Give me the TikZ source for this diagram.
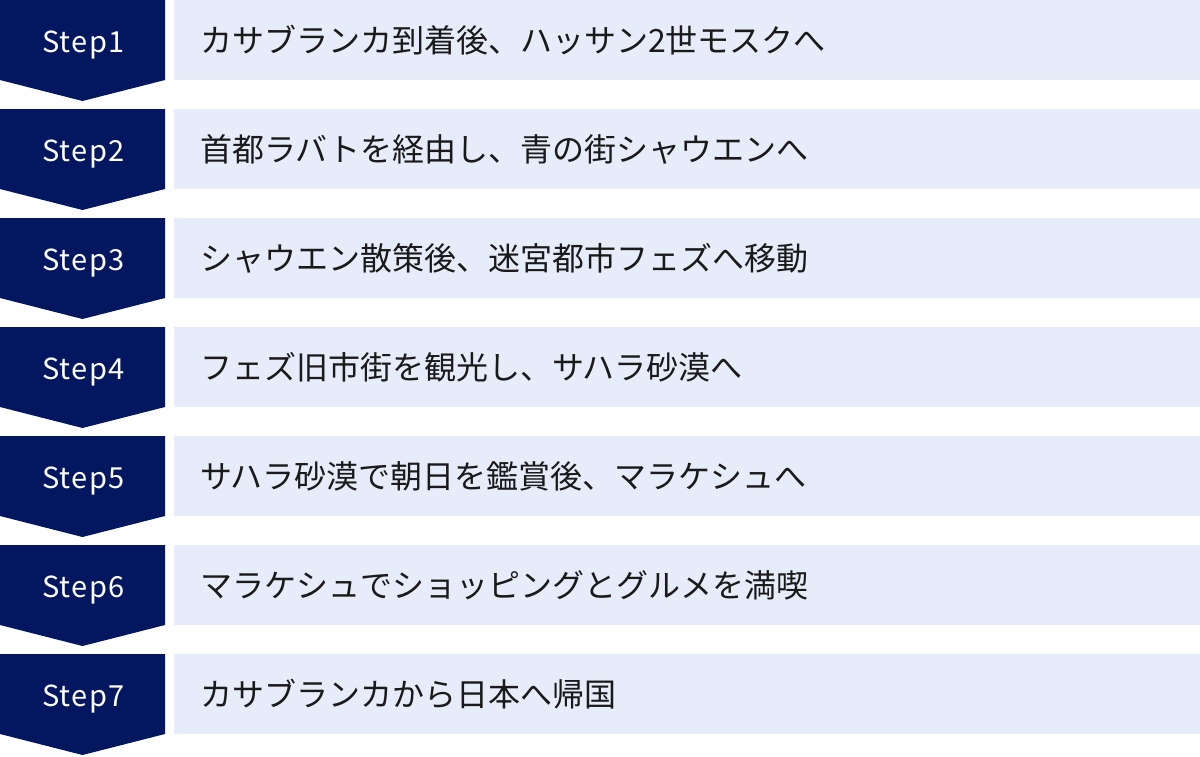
\documentclass[tikz,border=0pt]{standalone}
\usepackage{fontspec}
\setmainfont{Noto Sans CJK JP}
\newfontfamily\jpfont{Noto Sans CJK JP}
\newfontfamily\stepfont[LetterSpace=5]{Noto Sans CJK JP}
\definecolor{navy}{HTML}{031761}
\definecolor{lightbg}{HTML}{E6ECF9}
\definecolor{txt}{HTML}{1A1A1A}
\begin{document}
\begin{tikzpicture}[x=1pt,y=-1pt,
  stepshape/.style={fill=navy,draw=none},
  rowbox/.style={fill=lightbg,draw=none},
  steplabel/.style={text=white,font=\stepfont\fontsize{29}{34}\selectfont,anchor=base,inner sep=0pt},
  desclabel/.style={text=txt,font=\jpfont\fontsize{32}{38}\selectfont,anchor=west,inner sep=0pt}]
\useasboundingbox (0,0) rectangle (1200,756);
\foreach \i/\t in {1/{カサブランカ到着後、ハッサン2世モスクへ},
                   2/{首都ラバトを経由し、青の街シャウエンへ},
                   3/{シャウエン散策後、迷宮都市フェズへ移動},
                   4/{フェズ旧市街を観光し、サハラ砂漠へ},
                   5/{サハラ砂漠で朝日を鑑賞後、マラケシュへ},
                   6/{マラケシュでショッピングとグルメを満喫},
                   7/{カサブランカから日本へ帰国}} {
  \pgfmathsetmacro\yy{(\i-1)*109}
  \fill[stepshape] (0,\yy) -- (165,\yy) -- (165,\yy+80) -- (82.5,\yy+101) -- (0,\yy+80) -- cycle;
  \fill[rowbox] (174,\yy) rectangle (1200,\yy+80);
  \node[steplabel] (s\i) at (83.5,\yy+52.5) {Step\i};
  \node[desclabel] (d\i) at (200,\yy+40) {\t};
}
\end{tikzpicture}
\end{document}
